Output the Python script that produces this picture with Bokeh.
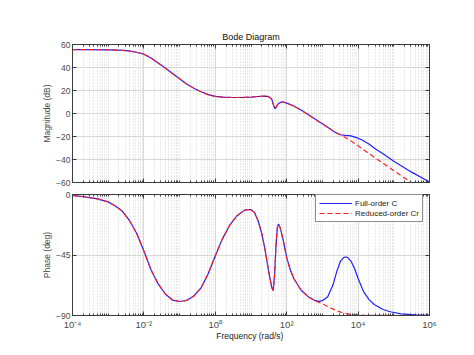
from bokeh.plotting import figure
from bokeh.layouts import column
from bokeh.models import Range1d, FixedTicker, LogAxis, LinearAxis, Legend, LegendItem
from bokeh.embed import file_html
from bokeh.resources import INLINE

# ---------------- data ----------------
# Magnitude, full-order C
mag_full_w = [1e-4, 3.16e-4, 1e-3, 2.0e-3, 3.16e-3, 5.01e-3, 7.08e-3, 1e-2, 1.58e-2, 2.51e-2,
              3.98e-2, 6.31e-2, 0.1, 0.158, 0.251, 0.398, 0.631, 1.0, 1.58, 3.16,
              6.31, 10, 15.8, 25.1, 31.6, 38.0, 43.7, 46.8, 50.1, 56.2,
              66.1, 79.4, 100, 158, 251, 398, 631, 1000, 1580, 2240,
              3160, 4470, 6310, 8910, 12600, 20000, 31600, 50100, 1e5, 3.16e5, 1e6]
mag_full = [55.5, 55.5, 55.4, 55.1, 54.6, 53.8, 52.8, 51.6, 48.3, 44.0,
            39.5, 34.8, 30.2, 25.6, 22.0, 18.9, 16.4, 14.9, 14.2, 13.9,
            14.0, 14.3, 14.8, 15.1, 14.6, 12.5, 6.5, 4.2, 5.2, 8.0,
            9.6, 10.0, 9.0, 6.5, 3.0, -0.9, -5.0, -9.0, -13.0, -16.3,
            -18.5, -19.0, -19.4, -21.0, -22.8, -26.5, -31.0, -35.0, -41.5, -51.0, -59.5]

# Magnitude, reduced-order Cr
mag_red_w = [1e-4, 3.16e-4, 1e-3, 2.0e-3, 3.16e-3, 5.01e-3, 7.08e-3, 1e-2, 1.58e-2, 2.51e-2,
             3.98e-2, 6.31e-2, 0.1, 0.158, 0.251, 0.398, 0.631, 1.0, 1.58, 3.16,
             6.31, 10, 15.8, 25.1, 31.6, 38.0, 43.7, 46.8, 50.1, 56.2,
             66.1, 79.4, 100, 158, 251, 398, 631, 1000, 1580, 2240,
             3160, 6310, 10000, 17800, 31600, 56200, 1e5, 1.78e5, 3.16e5, 1e6]
mag_red = [55.5, 55.5, 55.4, 55.1, 54.6, 53.8, 52.8, 51.6, 48.3, 44.0,
           39.5, 34.8, 30.2, 25.6, 22.0, 18.9, 16.4, 14.9, 14.2, 13.9,
           14.0, 14.3, 14.8, 15.1, 14.6, 12.5, 6.5, 4.2, 5.2, 8.0,
           9.6, 10.0, 9.0, 6.5, 3.0, -0.9, -5.0, -9.0, -13.0, -16.3,
           -18.3, -23.8, -28.1, -33.6, -39.0, -44.3, -49.7, -55.0, -60.4, -71.0]

# Phase, full-order C
ph_full_w = [1e-4, 2.51e-4, 5.01e-4, 1e-3, 1.58e-3, 2.51e-3, 3.98e-3, 6.31e-3, 1e-2, 1.58e-2,
             2.51e-2, 3.98e-2, 6.31e-2, 0.1, 0.158, 0.251, 0.398, 0.631, 1.0, 1.58,
             2.51, 3.98, 6.31, 7.94, 10, 12.6, 15.8, 20.0, 25.1, 31.6,
             38.0, 41.7, 45.7, 50.1, 55.0, 58.9, 66.1, 79.4, 100, 126,
             158, 251, 398, 631, 794, 1000, 1410, 2000, 2510, 3160,
             3980, 4470, 5010, 6310, 7940, 10000, 14100, 20000, 28200, 50100,
             79400, 1.58e5, 3.98e5, 1e6]
ph_full = [-0.7, -2.0, -3.3, -5.5, -8.5, -12.5, -19.5, -29.0, -42.0, -56.0,
           -66.5, -74.0, -78.5, -79.6, -78.8, -75.5, -69.5, -59.0, -45.5, -33.0,
           -23.0, -16.0, -12.0, -11.2, -11.3, -13.5, -19.5, -29.0, -42.0, -58.0,
           -69.0, -71.5, -60.0, -38.0, -24.0, -22.0, -25.0, -33.5, -47.0, -56.0,
           -62.5, -71.0, -76.0, -79.0, -79.5, -79.0, -76.0, -67.0, -57.5, -50.0,
           -46.8, -46.5, -46.8, -49.5, -55.0, -62.5, -72.0, -78.0, -81.8, -85.5,
           -87.2, -88.8, -89.5, -89.8]

# Phase, reduced-order Cr
ph_red_w = [1e-4, 2.51e-4, 5.01e-4, 1e-3, 1.58e-3, 2.51e-3, 3.98e-3, 6.31e-3, 1e-2, 1.58e-2,
            2.51e-2, 3.98e-2, 6.31e-2, 0.1, 0.158, 0.251, 0.398, 0.631, 1.0, 1.58,
            2.51, 3.98, 6.31, 7.94, 10, 12.6, 15.8, 20.0, 25.1, 31.6,
            38.0, 41.7, 45.7, 50.1, 55.0, 58.9, 66.1, 79.4, 100, 126,
            158, 251, 398, 631, 1000, 1580, 2510, 3980, 6310, 15800, 1e5, 1e6]
ph_red = [-0.7, -2.0, -3.3, -5.5, -8.5, -12.5, -19.5, -29.0, -42.0, -56.0,
          -66.5, -74.0, -78.5, -79.6, -78.8, -75.5, -69.5, -59.0, -45.5, -33.0,
          -23.0, -16.0, -12.0, -11.2, -11.3, -13.5, -19.5, -29.0, -42.0, -58.0,
          -69.0, -71.5, -60.0, -38.0, -24.0, -22.0, -25.0, -33.5, -47.0, -56.0,
          -62.5, -71.0, -76.0, -79.2, -81.3, -84.0, -86.5, -88.3, -89.3, -89.8, -90.0, -90.0]

x_major = [1e-4, 1e-2, 1e0, 1e2, 1e4, 1e6]
x_labels = ["10\u207b\u2074", "10\u207b\u00b2", "10\u2070", "10\u00b2", "10\u2074", "10\u2076"]
x_minor = [m * 10.0 ** d for d in range(-4, 6) for m in range(1, 10)] + [1e6]
mag_ticks = [-60, -40, -20, 0, 20, 40, 60]
ph_ticks = [-90, -45, 0]

FONT = "Liberation Sans"
AX = "#3c3c3c"
TXT = "#4a4a4a"
BLUE = "#2020ff"
RED = "#ff2020"

xr = Range1d(1e-4, 1e6)


def hide_labels(ax):
    ax.major_label_text_font_size = "1px"
    ax.major_label_text_color = None
    ax.major_label_standoff = 0


def style_x(ax, show_labels):
    ax.ticker = FixedTicker(ticks=x_major, minor_ticks=x_minor)
    ax.axis_line_color = AX
    ax.major_tick_line_color = AX
    ax.minor_tick_line_color = AX
    ax.major_tick_in = 4
    ax.major_tick_out = 0
    ax.minor_tick_in = 2
    ax.minor_tick_out = 0
    if show_labels:
        ax.major_label_overrides = {t: l for t, l in zip(x_major, x_labels)}
        ax.major_label_text_font = FONT
        ax.major_label_text_font_size = "9.5px"
        ax.major_label_text_color = TXT
        ax.major_label_standoff = 3
    else:
        hide_labels(ax)


def style_y(ax, ticks, show_labels):
    ax.ticker = FixedTicker(ticks=ticks, minor_ticks=[])
    ax.axis_line_color = AX
    ax.major_tick_line_color = AX
    ax.major_tick_in = 4
    ax.major_tick_out = 0
    ax.minor_tick_line_color = None
    if show_labels:
        ax.major_label_text_font = FONT
        ax.major_label_text_font_size = "8.5px"
        ax.major_label_text_color = TXT
        ax.major_label_standoff = 2
        ax.axis_label_text_font = FONT
        ax.axis_label_text_font_size = "8.5px"
        ax.axis_label_text_font_style = "normal"
        ax.axis_label_text_color = TXT
        ax.axis_label_standoff = 1
    else:
        hide_labels(ax)


def style_grid(p):
    p.xgrid.grid_line_color = "#d8d8d8"
    p.xgrid.minor_grid_line_color = "#d2d2d2"
    p.xgrid.minor_grid_line_dash = "1 2"
    p.ygrid.grid_line_color = "#d8d8d8"
    p.outline_line_color = AX


# ---------------- magnitude ----------------
p1 = figure(width=474, height=188, x_axis_type="log", x_range=xr, y_range=Range1d(-60, 60),
            toolbar_location=None, output_backend="svg",
            min_border_left=72, min_border_right=45, min_border_top=44, min_border_bottom=6)
p1.title.text = "Bode Diagram"
p1.title.align = "center"
p1.title.offset = 13
p1.title.text_font = FONT
p1.title.text_font_size = "9px"
p1.title.text_font_style = "normal"
p1.title.text_color = "#111111"
p1.title.standoff = 6
style_x(p1.xaxis[0], False)
style_y(p1.yaxis[0], mag_ticks, True)
p1.yaxis[0].axis_label = "Magnitude (dB)"
top1 = LogAxis()
style_x(top1, False)
p1.add_layout(top1, "above")
right1 = LinearAxis()
style_y(right1, mag_ticks, False)
p1.add_layout(right1, "right")
style_grid(p1)
p1.line(mag_full_w, mag_full, line_color=BLUE, line_width=1.2)
p1.line(mag_red_w, mag_red, line_color=RED, line_width=1.2, line_dash="5 3")

# ---------------- phase ----------------
p2 = figure(width=474, height=167, x_axis_type="log", x_range=xr, y_range=Range1d(-90, 0),
            toolbar_location=None, output_backend="svg",
            min_border_left=72, min_border_right=45, min_border_top=6, min_border_bottom=40)
style_x(p2.xaxis[0], True)
p2.xaxis[0].axis_label = "Frequency  (rad/s)"
p2.xaxis[0].axis_label_text_font = FONT
p2.xaxis[0].axis_label_text_font_size = "8.5px"
p2.xaxis[0].axis_label_text_font_style = "normal"
p2.xaxis[0].axis_label_text_color = "#222222"
p2.xaxis[0].axis_label_standoff = -2
style_y(p2.yaxis[0], ph_ticks, True)
p2.yaxis[0].axis_label = "Phase (deg)"
top2 = LogAxis()
style_x(top2, False)
p2.add_layout(top2, "above")
right2 = LinearAxis()
style_y(right2, ph_ticks, False)
p2.add_layout(right2, "right")
style_grid(p2)
r_full = p2.line(ph_full_w, ph_full, line_color=BLUE, line_width=1.2)
r_red = p2.line(ph_red_w, ph_red, line_color=RED, line_width=1.2, line_dash="5 3")

legend = Legend(items=[LegendItem(label="Full-order C", renderers=[r_full]),
                       LegendItem(label="Reduced-order Cr", renderers=[r_red])],
                location=(243, 93), padding=3, spacing=0,
                glyph_width=33, glyph_height=10, label_height=10, label_standoff=3,
                label_text_font=FONT, label_text_font_size="8px", label_text_color="#222222",
                border_line_color="#222222", border_line_width=1, background_fill_alpha=1)
p2.add_layout(legend)

layout = column(p1, p2, spacing=0)
open("out.html", "w").write(file_html(layout, INLINE))
